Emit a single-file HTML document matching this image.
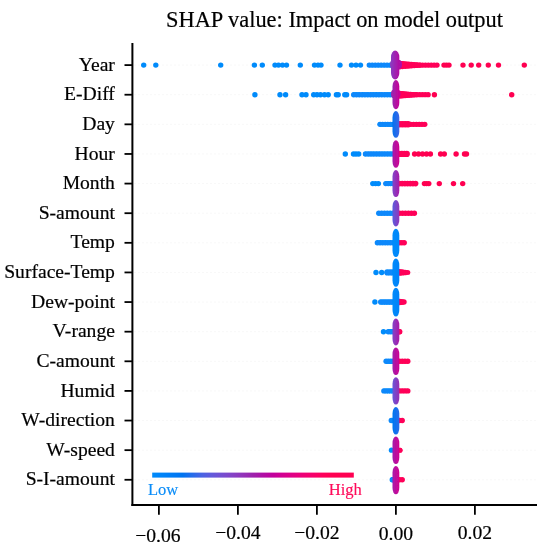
<!DOCTYPE html><html><head><meta charset="utf-8"><style>html,body{margin:0;padding:0;background:#fff;width:546px;height:550px;overflow:hidden}svg{display:block;will-change:transform}text{font-family:"Liberation Serif",serif}</style></head><body><svg width="546" height="550" viewBox="0 0 546 550"><defs><linearGradient id="cb" x1="0" x2="1" y1="0" y2="0"><stop offset="0.00" stop-color="#008bfb"/><stop offset="0.05" stop-color="#0084f9"/><stop offset="0.10" stop-color="#007cf5"/><stop offset="0.15" stop-color="#0074f0"/><stop offset="0.20" stop-color="#266cea"/><stop offset="0.25" stop-color="#4c63e3"/><stop offset="0.30" stop-color="#6459da"/><stop offset="0.35" stop-color="#764ed0"/><stop offset="0.40" stop-color="#8542c5"/><stop offset="0.45" stop-color="#9233b9"/><stop offset="0.50" stop-color="#9d22ac"/><stop offset="0.55" stop-color="#b00fa5"/><stop offset="0.60" stop-color="#c2009c"/><stop offset="0.65" stop-color="#d40090"/><stop offset="0.70" stop-color="#e10084"/><stop offset="0.75" stop-color="#ee0076"/><stop offset="0.80" stop-color="#f7006a"/><stop offset="0.85" stop-color="#ff005a"/><stop offset="0.90" stop-color="#ff0051"/><stop offset="0.95" stop-color="#ff0051"/><stop offset="1.00" stop-color="#ff0051"/></linearGradient></defs><text x="334.5" y="27" font-size="22.4" text-anchor="middle" fill="#000" stroke="#000" stroke-width="0.2">SHAP value: Impact on model output</text><line x1="134" x2="537" y1="65.10" y2="65.10" stroke="#f8f8f8" stroke-width="1" stroke-dasharray="2,2"/><line x1="134" x2="537" y1="94.72" y2="94.72" stroke="#f8f8f8" stroke-width="1" stroke-dasharray="2,2"/><line x1="134" x2="537" y1="124.34" y2="124.34" stroke="#f8f8f8" stroke-width="1" stroke-dasharray="2,2"/><line x1="134" x2="537" y1="153.96" y2="153.96" stroke="#f8f8f8" stroke-width="1" stroke-dasharray="2,2"/><line x1="134" x2="537" y1="183.58" y2="183.58" stroke="#f8f8f8" stroke-width="1" stroke-dasharray="2,2"/><line x1="134" x2="537" y1="213.20" y2="213.20" stroke="#f8f8f8" stroke-width="1" stroke-dasharray="2,2"/><line x1="134" x2="537" y1="242.82" y2="242.82" stroke="#f8f8f8" stroke-width="1" stroke-dasharray="2,2"/><line x1="134" x2="537" y1="272.44" y2="272.44" stroke="#f8f8f8" stroke-width="1" stroke-dasharray="2,2"/><line x1="134" x2="537" y1="302.06" y2="302.06" stroke="#f8f8f8" stroke-width="1" stroke-dasharray="2,2"/><line x1="134" x2="537" y1="331.68" y2="331.68" stroke="#f8f8f8" stroke-width="1" stroke-dasharray="2,2"/><line x1="134" x2="537" y1="361.30" y2="361.30" stroke="#f8f8f8" stroke-width="1" stroke-dasharray="2,2"/><line x1="134" x2="537" y1="390.92" y2="390.92" stroke="#f8f8f8" stroke-width="1" stroke-dasharray="2,2"/><line x1="134" x2="537" y1="420.54" y2="420.54" stroke="#f8f8f8" stroke-width="1" stroke-dasharray="2,2"/><line x1="134" x2="537" y1="450.16" y2="450.16" stroke="#f8f8f8" stroke-width="1" stroke-dasharray="2,2"/><line x1="134" x2="537" y1="479.78" y2="479.78" stroke="#f8f8f8" stroke-width="1" stroke-dasharray="2,2"/><text x="114.9" y="70.70" font-size="19.6" text-anchor="end" fill="#000" stroke="#000" stroke-width="0.2">Year</text><line x1="124.5" x2="132.4" y1="65.10" y2="65.10" stroke="#000" stroke-width="1.8"/><text x="114.9" y="100.32" font-size="19.6" text-anchor="end" fill="#000" stroke="#000" stroke-width="0.2">E-Diff</text><line x1="124.5" x2="132.4" y1="94.72" y2="94.72" stroke="#000" stroke-width="1.8"/><text x="114.9" y="129.94" font-size="19.6" text-anchor="end" fill="#000" stroke="#000" stroke-width="0.2">Day</text><line x1="124.5" x2="132.4" y1="124.34" y2="124.34" stroke="#000" stroke-width="1.8"/><text x="114.9" y="159.56" font-size="19.6" text-anchor="end" fill="#000" stroke="#000" stroke-width="0.2">Hour</text><line x1="124.5" x2="132.4" y1="153.96" y2="153.96" stroke="#000" stroke-width="1.8"/><text x="114.9" y="189.18" font-size="19.6" text-anchor="end" fill="#000" stroke="#000" stroke-width="0.2">Month</text><line x1="124.5" x2="132.4" y1="183.58" y2="183.58" stroke="#000" stroke-width="1.8"/><text x="114.9" y="218.80" font-size="19.6" text-anchor="end" fill="#000" stroke="#000" stroke-width="0.2">S-amount</text><line x1="124.5" x2="132.4" y1="213.20" y2="213.20" stroke="#000" stroke-width="1.8"/><text x="114.9" y="248.42" font-size="19.6" text-anchor="end" fill="#000" stroke="#000" stroke-width="0.2">Temp</text><line x1="124.5" x2="132.4" y1="242.82" y2="242.82" stroke="#000" stroke-width="1.8"/><text x="114.9" y="278.04" font-size="19.6" text-anchor="end" fill="#000" stroke="#000" stroke-width="0.2">Surface-Temp</text><line x1="124.5" x2="132.4" y1="272.44" y2="272.44" stroke="#000" stroke-width="1.8"/><text x="114.9" y="307.66" font-size="19.6" text-anchor="end" fill="#000" stroke="#000" stroke-width="0.2">Dew-point</text><line x1="124.5" x2="132.4" y1="302.06" y2="302.06" stroke="#000" stroke-width="1.8"/><text x="114.9" y="337.28" font-size="19.6" text-anchor="end" fill="#000" stroke="#000" stroke-width="0.2">V-range</text><line x1="124.5" x2="132.4" y1="331.68" y2="331.68" stroke="#000" stroke-width="1.8"/><text x="114.9" y="366.90" font-size="19.6" text-anchor="end" fill="#000" stroke="#000" stroke-width="0.2">C-amount</text><line x1="124.5" x2="132.4" y1="361.30" y2="361.30" stroke="#000" stroke-width="1.8"/><text x="114.9" y="396.52" font-size="19.6" text-anchor="end" fill="#000" stroke="#000" stroke-width="0.2">Humid</text><line x1="124.5" x2="132.4" y1="390.92" y2="390.92" stroke="#000" stroke-width="1.8"/><text x="114.9" y="426.14" font-size="19.6" text-anchor="end" fill="#000" stroke="#000" stroke-width="0.2">W-direction</text><line x1="124.5" x2="132.4" y1="420.54" y2="420.54" stroke="#000" stroke-width="1.8"/><text x="114.9" y="455.76" font-size="19.6" text-anchor="end" fill="#000" stroke="#000" stroke-width="0.2">W-speed</text><line x1="124.5" x2="132.4" y1="450.16" y2="450.16" stroke="#000" stroke-width="1.8"/><text x="114.9" y="485.38" font-size="19.6" text-anchor="end" fill="#000" stroke="#000" stroke-width="0.2">S-I-amount</text><line x1="124.5" x2="132.4" y1="479.78" y2="479.78" stroke="#000" stroke-width="1.8"/><line x1="132.4" x2="132.4" y1="43" y2="505.9" stroke="#000" stroke-width="2"/><line x1="131.4" x2="537" y1="504.9" y2="504.9" stroke="#000" stroke-width="2"/><line x1="158.90" x2="158.90" y1="504.9" y2="514.8" stroke="#000" stroke-width="1.8"/><text x="157.90" y="541.5" font-size="19.6" text-anchor="middle" fill="#000" stroke="#000" stroke-width="0.2">−0.06</text><line x1="237.90" x2="237.90" y1="504.9" y2="514.8" stroke="#000" stroke-width="1.8"/><text x="237.90" y="539" font-size="19.6" text-anchor="middle" fill="#000" stroke="#000" stroke-width="0.2">−0.04</text><line x1="316.90" x2="316.90" y1="504.9" y2="514.8" stroke="#000" stroke-width="1.8"/><text x="316.90" y="539" font-size="19.6" text-anchor="middle" fill="#000" stroke="#000" stroke-width="0.2">−0.02</text><line x1="395.90" x2="395.90" y1="504.9" y2="514.8" stroke="#000" stroke-width="1.8"/><text x="395.90" y="539.5" font-size="19.6" text-anchor="middle" fill="#000" stroke="#000" stroke-width="0.2">0.00</text><line x1="474.90" x2="474.90" y1="504.9" y2="514.8" stroke="#000" stroke-width="1.8"/><text x="474.90" y="538.6" font-size="19.6" text-anchor="middle" fill="#000" stroke="#000" stroke-width="0.2">0.02</text><defs><filter id="bl" x="-5%" y="-5%" width="110%" height="110%"><feGaussianBlur stdDeviation="0.45"/></filter></defs><g filter="url(#bl)"><line x1="369.3" x2="393" y1="65.10" y2="65.10" stroke="#0888fb" stroke-width="4.20" stroke-linecap="round"/><circle cx="369.30" cy="65.10" r="2.70" fill="#0888fb"/><circle cx="372.26" cy="65.10" r="2.70" fill="#0888fb"/><circle cx="375.23" cy="65.10" r="2.70" fill="#0888fb"/><circle cx="378.19" cy="65.10" r="2.70" fill="#0888fb"/><circle cx="381.15" cy="65.10" r="2.70" fill="#0888fb"/><circle cx="384.11" cy="65.10" r="2.70" fill="#0888fb"/><circle cx="387.07" cy="65.10" r="2.70" fill="#0888fb"/><circle cx="390.04" cy="65.10" r="2.70" fill="#0888fb"/><circle cx="393.00" cy="65.10" r="2.70" fill="#0888fb"/><circle cx="143.7" cy="65.10" r="2.7" fill="#008bfb"/><circle cx="155.8" cy="65.10" r="2.7" fill="#008bfb"/><circle cx="220.7" cy="65.10" r="2.7" fill="#008bfb"/><circle cx="254.4" cy="65.10" r="2.7" fill="#008bfb"/><circle cx="262.3" cy="65.10" r="2.7" fill="#008bfb"/><circle cx="275" cy="65.10" r="2.7" fill="#008bfb"/><circle cx="278.5" cy="65.10" r="2.7" fill="#008bfb"/><circle cx="282.5" cy="65.10" r="2.7" fill="#008bfb"/><circle cx="286.5" cy="65.10" r="2.7" fill="#008bfb"/><circle cx="300.3" cy="65.10" r="2.7" fill="#008bfb"/><circle cx="314.5" cy="65.10" r="2.7" fill="#008bfb"/><circle cx="318" cy="65.10" r="2.7" fill="#008bfb"/><circle cx="321" cy="65.10" r="2.7" fill="#008bfb"/><circle cx="340" cy="65.10" r="2.7" fill="#008bfb"/><circle cx="351.5" cy="65.10" r="2.7" fill="#008bfb"/><circle cx="356" cy="65.10" r="2.7" fill="#008bfb"/><circle cx="360.5" cy="65.10" r="2.7" fill="#008bfb"/><line x1="399.5" x2="437" y1="65.10" y2="65.10" stroke="#ff0058" stroke-width="4.20" stroke-linecap="round"/><circle cx="399.50" cy="65.10" r="2.70" fill="#ff0058"/><circle cx="402.38" cy="65.10" r="2.70" fill="#ff0058"/><circle cx="405.27" cy="65.10" r="2.70" fill="#ff0058"/><circle cx="408.15" cy="65.10" r="2.70" fill="#ff0058"/><circle cx="411.04" cy="65.10" r="2.70" fill="#ff0058"/><circle cx="413.92" cy="65.10" r="2.70" fill="#ff0058"/><circle cx="416.81" cy="65.10" r="2.70" fill="#ff0058"/><circle cx="419.69" cy="65.10" r="2.70" fill="#ff0058"/><circle cx="422.58" cy="65.10" r="2.70" fill="#ff0058"/><circle cx="425.46" cy="65.10" r="2.70" fill="#ff0058"/><circle cx="428.35" cy="65.10" r="2.70" fill="#ff0058"/><circle cx="431.23" cy="65.10" r="2.70" fill="#ff0058"/><circle cx="434.12" cy="65.10" r="2.70" fill="#ff0058"/><circle cx="437.00" cy="65.10" r="2.70" fill="#ff0058"/><polygon points="399.5,61.40 420,63.00 420,67.20 399.5,68.80" fill="#ff0058"/><circle cx="399.50" cy="65.10" r="4.30" fill="#ff0058"/><circle cx="402.43" cy="65.10" r="4.07" fill="#ff0058"/><circle cx="405.36" cy="65.10" r="3.84" fill="#ff0058"/><circle cx="408.29" cy="65.10" r="3.61" fill="#ff0058"/><circle cx="411.21" cy="65.10" r="3.39" fill="#ff0058"/><circle cx="414.14" cy="65.10" r="3.16" fill="#ff0058"/><circle cx="417.07" cy="65.10" r="2.93" fill="#ff0058"/><circle cx="420.00" cy="65.10" r="2.70" fill="#ff0058"/><circle cx="444" cy="65.10" r="2.7" fill="#ff0051"/><circle cx="446.5" cy="65.10" r="2.7" fill="#ff0051"/><circle cx="449" cy="65.10" r="2.7" fill="#ff0051"/><circle cx="463" cy="65.10" r="2.7" fill="#ff0051"/><circle cx="471.2" cy="65.10" r="2.7" fill="#ff0051"/><circle cx="478.7" cy="65.10" r="2.7" fill="#ff0051"/><circle cx="488.3" cy="65.10" r="2.7" fill="#ff0051"/><circle cx="498.5" cy="65.10" r="2.7" fill="#ff0051"/><circle cx="524.3" cy="65.10" r="2.7" fill="#ff0051"/><linearGradient id="sg0" x1="0" x2="1" y1="0" y2="0"><stop offset="0" stop-color="#8a3cc0"/><stop offset="1" stop-color="#b30aa3"/></linearGradient><rect x="390" y="59.8" width="12.0" height="9.4" rx="4" ry="4" fill="url(#sg0)"/><rect x="391" y="50.6" width="8.3" height="28.8" rx="4.15" ry="6.5" fill="url(#sg0)"/><line x1="353.7" x2="393" y1="94.72" y2="94.72" stroke="#0888fb" stroke-width="4.20" stroke-linecap="round"/><circle cx="353.70" cy="94.72" r="2.70" fill="#0888fb"/><circle cx="356.51" cy="94.72" r="2.70" fill="#0888fb"/><circle cx="359.31" cy="94.72" r="2.70" fill="#0888fb"/><circle cx="362.12" cy="94.72" r="2.70" fill="#0888fb"/><circle cx="364.93" cy="94.72" r="2.70" fill="#0888fb"/><circle cx="367.74" cy="94.72" r="2.70" fill="#0888fb"/><circle cx="370.54" cy="94.72" r="2.70" fill="#0888fb"/><circle cx="373.35" cy="94.72" r="2.70" fill="#0888fb"/><circle cx="376.16" cy="94.72" r="2.70" fill="#0888fb"/><circle cx="378.96" cy="94.72" r="2.70" fill="#0888fb"/><circle cx="381.77" cy="94.72" r="2.70" fill="#0888fb"/><circle cx="384.58" cy="94.72" r="2.70" fill="#0888fb"/><circle cx="387.39" cy="94.72" r="2.70" fill="#0888fb"/><circle cx="390.19" cy="94.72" r="2.70" fill="#0888fb"/><circle cx="393.00" cy="94.72" r="2.70" fill="#0888fb"/><circle cx="254.9" cy="94.72" r="2.7" fill="#008bfb"/><circle cx="280" cy="94.72" r="2.7" fill="#008bfb"/><circle cx="285.6" cy="94.72" r="2.7" fill="#008bfb"/><circle cx="302" cy="94.72" r="2.7" fill="#008bfb"/><circle cx="306" cy="94.72" r="2.7" fill="#008bfb"/><circle cx="313.7" cy="94.72" r="2.7" fill="#008bfb"/><circle cx="317" cy="94.72" r="2.7" fill="#008bfb"/><circle cx="320.5" cy="94.72" r="2.7" fill="#008bfb"/><circle cx="324.5" cy="94.72" r="2.7" fill="#008bfb"/><circle cx="328.2" cy="94.72" r="2.7" fill="#008bfb"/><circle cx="336.4" cy="94.72" r="2.7" fill="#008bfb"/><circle cx="338.2" cy="94.72" r="2.7" fill="#008bfb"/><circle cx="344.8" cy="94.72" r="2.7" fill="#008bfb"/><circle cx="346.6" cy="94.72" r="2.7" fill="#008bfb"/><line x1="399.5" x2="428.2" y1="94.72" y2="94.72" stroke="#ff0058" stroke-width="4.00" stroke-linecap="round"/><circle cx="399.50" cy="94.72" r="2.60" fill="#ff0058"/><circle cx="402.37" cy="94.72" r="2.60" fill="#ff0058"/><circle cx="405.24" cy="94.72" r="2.60" fill="#ff0058"/><circle cx="408.11" cy="94.72" r="2.60" fill="#ff0058"/><circle cx="410.98" cy="94.72" r="2.60" fill="#ff0058"/><circle cx="413.85" cy="94.72" r="2.60" fill="#ff0058"/><circle cx="416.72" cy="94.72" r="2.60" fill="#ff0058"/><circle cx="419.59" cy="94.72" r="2.60" fill="#ff0058"/><circle cx="422.46" cy="94.72" r="2.60" fill="#ff0058"/><circle cx="425.33" cy="94.72" r="2.60" fill="#ff0058"/><circle cx="428.20" cy="94.72" r="2.60" fill="#ff0058"/><polygon points="399.5,91.32 416,92.72 416,96.72 399.5,98.12" fill="#ff0058"/><circle cx="399.50" cy="94.72" r="4.00" fill="#ff0058"/><circle cx="402.25" cy="94.72" r="3.77" fill="#ff0058"/><circle cx="405.00" cy="94.72" r="3.53" fill="#ff0058"/><circle cx="407.75" cy="94.72" r="3.30" fill="#ff0058"/><circle cx="410.50" cy="94.72" r="3.07" fill="#ff0058"/><circle cx="413.25" cy="94.72" r="2.83" fill="#ff0058"/><circle cx="416.00" cy="94.72" r="2.60" fill="#ff0058"/><circle cx="434.4" cy="94.72" r="2.7" fill="#ff0051"/><circle cx="511.7" cy="94.72" r="2.7" fill="#ff0051"/><linearGradient id="sg1" x1="0" x2="1" y1="0" y2="0"><stop offset="0" stop-color="#9a25ae"/><stop offset="1" stop-color="#ca0097"/></linearGradient><rect x="391" y="89.3" width="9.4" height="9.3" rx="4" ry="4" fill="url(#sg1)"/><rect x="392.5" y="80.1" width="6.8" height="29.1" rx="3.40" ry="6.5" fill="url(#sg1)"/><line x1="380" x2="393" y1="124.34" y2="124.34" stroke="#0888fb" stroke-width="4.20" stroke-linecap="round"/><circle cx="380.00" cy="124.34" r="2.70" fill="#0888fb"/><circle cx="382.60" cy="124.34" r="2.70" fill="#0888fb"/><circle cx="385.20" cy="124.34" r="2.70" fill="#0888fb"/><circle cx="387.80" cy="124.34" r="2.70" fill="#0888fb"/><circle cx="390.40" cy="124.34" r="2.70" fill="#0888fb"/><circle cx="393.00" cy="124.34" r="2.70" fill="#0888fb"/><line x1="399.5" x2="408" y1="124.34" y2="124.34" stroke="#ff0058" stroke-width="5.30" stroke-linecap="round"/><circle cx="399.50" cy="124.34" r="3.25" fill="#ff0058"/><circle cx="402.33" cy="124.34" r="3.25" fill="#ff0058"/><circle cx="405.17" cy="124.34" r="3.25" fill="#ff0058"/><circle cx="408.00" cy="124.34" r="3.25" fill="#ff0058"/><line x1="399.5" x2="424.8" y1="124.34" y2="124.34" stroke="#ff0058" stroke-width="4.10" stroke-linecap="round"/><circle cx="399.50" cy="124.34" r="2.65" fill="#ff0058"/><circle cx="402.31" cy="124.34" r="2.65" fill="#ff0058"/><circle cx="405.12" cy="124.34" r="2.65" fill="#ff0058"/><circle cx="407.93" cy="124.34" r="2.65" fill="#ff0058"/><circle cx="410.74" cy="124.34" r="2.65" fill="#ff0058"/><circle cx="413.56" cy="124.34" r="2.65" fill="#ff0058"/><circle cx="416.37" cy="124.34" r="2.65" fill="#ff0058"/><circle cx="419.18" cy="124.34" r="2.65" fill="#ff0058"/><circle cx="421.99" cy="124.34" r="2.65" fill="#ff0058"/><circle cx="424.80" cy="124.34" r="2.65" fill="#ff0058"/><linearGradient id="sg2" x1="0" x2="1" y1="0" y2="0"><stop offset="0" stop-color="#0071ee"/><stop offset="1" stop-color="#4066e6"/></linearGradient><rect x="392.5" y="111.0" width="6.8" height="26.8" rx="3.40" ry="6.5" fill="url(#sg2)"/><line x1="365.5" x2="393" y1="153.96" y2="153.96" stroke="#0888fb" stroke-width="4.20" stroke-linecap="round"/><circle cx="365.50" cy="153.96" r="2.70" fill="#0888fb"/><circle cx="368.25" cy="153.96" r="2.70" fill="#0888fb"/><circle cx="371.00" cy="153.96" r="2.70" fill="#0888fb"/><circle cx="373.75" cy="153.96" r="2.70" fill="#0888fb"/><circle cx="376.50" cy="153.96" r="2.70" fill="#0888fb"/><circle cx="379.25" cy="153.96" r="2.70" fill="#0888fb"/><circle cx="382.00" cy="153.96" r="2.70" fill="#0888fb"/><circle cx="384.75" cy="153.96" r="2.70" fill="#0888fb"/><circle cx="387.50" cy="153.96" r="2.70" fill="#0888fb"/><circle cx="390.25" cy="153.96" r="2.70" fill="#0888fb"/><circle cx="393.00" cy="153.96" r="2.70" fill="#0888fb"/><circle cx="345.3" cy="153.96" r="2.7" fill="#008bfb"/><circle cx="353.5" cy="153.96" r="2.7" fill="#008bfb"/><circle cx="356" cy="153.96" r="2.7" fill="#008bfb"/><circle cx="358.7" cy="153.96" r="2.7" fill="#008bfb"/><line x1="399.5" x2="406.8" y1="153.96" y2="153.96" stroke="#ff0058" stroke-width="5.00" stroke-linecap="round"/><circle cx="399.50" cy="153.96" r="3.10" fill="#ff0058"/><circle cx="401.93" cy="153.96" r="3.10" fill="#ff0058"/><circle cx="404.37" cy="153.96" r="3.10" fill="#ff0058"/><circle cx="406.80" cy="153.96" r="3.10" fill="#ff0058"/><circle cx="414.6" cy="153.96" r="2.7" fill="#ff0051"/><circle cx="418.5" cy="153.96" r="2.7" fill="#ff0051"/><circle cx="422.5" cy="153.96" r="2.7" fill="#ff0051"/><circle cx="426.5" cy="153.96" r="2.7" fill="#ff0051"/><circle cx="430.4" cy="153.96" r="2.7" fill="#ff0051"/><circle cx="440.6" cy="153.96" r="2.7" fill="#ff0051"/><circle cx="444.3" cy="153.96" r="2.7" fill="#ff0051"/><circle cx="456.1" cy="153.96" r="2.7" fill="#ff0051"/><circle cx="464.5" cy="153.96" r="2.7" fill="#ff0051"/><circle cx="466.5" cy="153.96" r="2.7" fill="#ff0051"/><linearGradient id="sg3" x1="0" x2="1" y1="0" y2="0"><stop offset="0" stop-color="#a31daa"/><stop offset="1" stop-color="#d10091"/></linearGradient><rect x="392.5" y="140.3" width="6.8" height="27.5" rx="3.40" ry="6.5" fill="url(#sg3)"/><line x1="385.8" x2="393" y1="183.58" y2="183.58" stroke="#0888fb" stroke-width="4.20" stroke-linecap="round"/><circle cx="385.80" cy="183.58" r="2.70" fill="#0888fb"/><circle cx="388.20" cy="183.58" r="2.70" fill="#0888fb"/><circle cx="390.60" cy="183.58" r="2.70" fill="#0888fb"/><circle cx="393.00" cy="183.58" r="2.70" fill="#0888fb"/><circle cx="372.8" cy="183.58" r="2.7" fill="#008bfb"/><circle cx="375.6" cy="183.58" r="2.7" fill="#008bfb"/><circle cx="378.4" cy="183.58" r="2.7" fill="#008bfb"/><line x1="399.5" x2="415.6" y1="183.58" y2="183.58" stroke="#ff0058" stroke-width="4.40" stroke-linecap="round"/><circle cx="399.50" cy="183.58" r="2.80" fill="#ff0058"/><circle cx="402.18" cy="183.58" r="2.80" fill="#ff0058"/><circle cx="404.87" cy="183.58" r="2.80" fill="#ff0058"/><circle cx="407.55" cy="183.58" r="2.80" fill="#ff0058"/><circle cx="410.23" cy="183.58" r="2.80" fill="#ff0058"/><circle cx="412.92" cy="183.58" r="2.80" fill="#ff0058"/><circle cx="415.60" cy="183.58" r="2.80" fill="#ff0058"/><circle cx="424.4" cy="183.58" r="2.7" fill="#ff0051"/><circle cx="426.6" cy="183.58" r="2.7" fill="#ff0051"/><circle cx="428.8" cy="183.58" r="2.7" fill="#ff0051"/><circle cx="439.3" cy="183.58" r="2.7" fill="#ff0051"/><circle cx="453.5" cy="183.58" r="2.7" fill="#ff0051"/><circle cx="462.7" cy="183.58" r="2.7" fill="#ff0051"/><linearGradient id="sg4" x1="0" x2="1" y1="0" y2="0"><stop offset="0" stop-color="#7f47c9"/><stop offset="1" stop-color="#a71aa9"/></linearGradient><rect x="392.5" y="170.0" width="6.8" height="27.1" rx="3.40" ry="6.5" fill="url(#sg4)"/><line x1="378.8" x2="393" y1="213.20" y2="213.20" stroke="#0888fb" stroke-width="4.20" stroke-linecap="round"/><circle cx="378.80" cy="213.20" r="2.70" fill="#0888fb"/><circle cx="381.64" cy="213.20" r="2.70" fill="#0888fb"/><circle cx="384.48" cy="213.20" r="2.70" fill="#0888fb"/><circle cx="387.32" cy="213.20" r="2.70" fill="#0888fb"/><circle cx="390.16" cy="213.20" r="2.70" fill="#0888fb"/><circle cx="393.00" cy="213.20" r="2.70" fill="#0888fb"/><line x1="399.5" x2="414.4" y1="213.20" y2="213.20" stroke="#ff0058" stroke-width="4.20" stroke-linecap="round"/><circle cx="399.50" cy="213.20" r="2.70" fill="#ff0058"/><circle cx="402.48" cy="213.20" r="2.70" fill="#ff0058"/><circle cx="405.46" cy="213.20" r="2.70" fill="#ff0058"/><circle cx="408.44" cy="213.20" r="2.70" fill="#ff0058"/><circle cx="411.42" cy="213.20" r="2.70" fill="#ff0058"/><circle cx="414.40" cy="213.20" r="2.70" fill="#ff0058"/><linearGradient id="sg5" x1="0" x2="1" y1="0" y2="0"><stop offset="0" stop-color="#5b5ddd"/><stop offset="1" stop-color="#8f36bb"/></linearGradient><rect x="392.5" y="200.0" width="6.8" height="26.4" rx="3.40" ry="6.5" fill="url(#sg5)"/><line x1="377.4" x2="393" y1="242.82" y2="242.82" stroke="#0888fb" stroke-width="4.20" stroke-linecap="round"/><circle cx="377.40" cy="242.82" r="2.70" fill="#0888fb"/><circle cx="380.00" cy="242.82" r="2.70" fill="#0888fb"/><circle cx="382.60" cy="242.82" r="2.70" fill="#0888fb"/><circle cx="385.20" cy="242.82" r="2.70" fill="#0888fb"/><circle cx="387.80" cy="242.82" r="2.70" fill="#0888fb"/><circle cx="390.40" cy="242.82" r="2.70" fill="#0888fb"/><circle cx="393.00" cy="242.82" r="2.70" fill="#0888fb"/><line x1="399.5" x2="404.2" y1="242.82" y2="242.82" stroke="#ff0058" stroke-width="4.20" stroke-linecap="round"/><circle cx="399.50" cy="242.82" r="2.70" fill="#ff0058"/><circle cx="401.85" cy="242.82" r="2.70" fill="#ff0058"/><circle cx="404.20" cy="242.82" r="2.70" fill="#ff0058"/><linearGradient id="sg6" x1="0" x2="1" y1="0" y2="0"><stop offset="0" stop-color="#008bfb"/><stop offset="1" stop-color="#0088fa"/></linearGradient><rect x="392.5" y="228.8" width="6.8" height="28.3" rx="3.40" ry="6.5" fill="url(#sg6)"/><line x1="387.3" x2="393" y1="272.44" y2="272.44" stroke="#0888fb" stroke-width="5.00" stroke-linecap="round"/><circle cx="387.30" cy="272.44" r="3.10" fill="#0888fb"/><circle cx="390.15" cy="272.44" r="3.10" fill="#0888fb"/><circle cx="393.00" cy="272.44" r="3.10" fill="#0888fb"/><circle cx="376" cy="272.44" r="2.7" fill="#008bfb"/><circle cx="381.7" cy="272.44" r="2.7" fill="#008bfb"/><polygon points="399.5,269.64 407.8,270.54 407.8,274.34 399.5,275.24" fill="#ff0058"/><circle cx="399.50" cy="272.44" r="3.40" fill="#ff0058"/><circle cx="402.27" cy="272.44" r="3.10" fill="#ff0058"/><circle cx="405.03" cy="272.44" r="2.80" fill="#ff0058"/><circle cx="407.80" cy="272.44" r="2.50" fill="#ff0058"/><linearGradient id="sg7" x1="0" x2="1" y1="0" y2="0"><stop offset="0" stop-color="#008bfb"/><stop offset="1" stop-color="#0082f8"/></linearGradient><rect x="392.5" y="258.5" width="6.8" height="28.3" rx="3.40" ry="6.5" fill="url(#sg7)"/><line x1="380.8" x2="393" y1="302.06" y2="302.06" stroke="#0888fb" stroke-width="4.40" stroke-linecap="round"/><circle cx="380.80" cy="302.06" r="2.80" fill="#0888fb"/><circle cx="383.24" cy="302.06" r="2.80" fill="#0888fb"/><circle cx="385.68" cy="302.06" r="2.80" fill="#0888fb"/><circle cx="388.12" cy="302.06" r="2.80" fill="#0888fb"/><circle cx="390.56" cy="302.06" r="2.80" fill="#0888fb"/><circle cx="393.00" cy="302.06" r="2.80" fill="#0888fb"/><circle cx="374.9" cy="302.06" r="2.7" fill="#008bfb"/><polygon points="399.5,299.36 404.0,299.96 404.0,304.16 399.5,304.76" fill="#ff0058"/><circle cx="399.50" cy="302.06" r="3.30" fill="#ff0058"/><circle cx="401.75" cy="302.06" r="3.00" fill="#ff0058"/><circle cx="404.00" cy="302.06" r="2.70" fill="#ff0058"/><linearGradient id="sg8" x1="0" x2="1" y1="0" y2="0"><stop offset="0" stop-color="#008bfb"/><stop offset="1" stop-color="#0082f8"/></linearGradient><rect x="392.5" y="287.8" width="6.8" height="28.8" rx="3.40" ry="6.5" fill="url(#sg8)"/><line x1="388.3" x2="393" y1="331.68" y2="331.68" stroke="#0888fb" stroke-width="4.20" stroke-linecap="round"/><circle cx="388.30" cy="331.68" r="2.70" fill="#0888fb"/><circle cx="390.65" cy="331.68" r="2.70" fill="#0888fb"/><circle cx="393.00" cy="331.68" r="2.70" fill="#0888fb"/><circle cx="383.5" cy="331.68" r="2.7" fill="#008bfb"/><line x1="399.3" x2="399.6" y1="331.68" y2="331.68" stroke="#ff0058" stroke-width="4.40" stroke-linecap="round"/><circle cx="399.30" cy="331.68" r="2.80" fill="#ff0058"/><circle cx="399.60" cy="331.68" r="2.80" fill="#ff0058"/><linearGradient id="sg9" x1="0" x2="1" y1="0" y2="0"><stop offset="0" stop-color="#8244c7"/><stop offset="1" stop-color="#aa17a7"/></linearGradient><rect x="392.5" y="318.5" width="6.8" height="26.9" rx="3.40" ry="6.5" fill="url(#sg9)"/><line x1="386.1" x2="393" y1="361.30" y2="361.30" stroke="#0888fb" stroke-width="4.20" stroke-linecap="round"/><circle cx="386.10" cy="361.30" r="2.70" fill="#0888fb"/><circle cx="388.40" cy="361.30" r="2.70" fill="#0888fb"/><circle cx="390.70" cy="361.30" r="2.70" fill="#0888fb"/><circle cx="393.00" cy="361.30" r="2.70" fill="#0888fb"/><line x1="399.5" x2="407.8" y1="361.30" y2="361.30" stroke="#ff0058" stroke-width="4.20" stroke-linecap="round"/><circle cx="399.50" cy="361.30" r="2.70" fill="#ff0058"/><circle cx="402.27" cy="361.30" r="2.70" fill="#ff0058"/><circle cx="405.03" cy="361.30" r="2.70" fill="#ff0058"/><circle cx="407.80" cy="361.30" r="2.70" fill="#ff0058"/><linearGradient id="sg10" x1="0" x2="1" y1="0" y2="0"><stop offset="0" stop-color="#a01fab"/><stop offset="1" stop-color="#cf0093"/></linearGradient><rect x="392.5" y="347.5" width="6.8" height="27.6" rx="3.40" ry="6.5" fill="url(#sg10)"/><line x1="383.9" x2="393" y1="390.92" y2="390.92" stroke="#0888fb" stroke-width="4.20" stroke-linecap="round"/><circle cx="383.90" cy="390.92" r="2.70" fill="#0888fb"/><circle cx="386.17" cy="390.92" r="2.70" fill="#0888fb"/><circle cx="388.45" cy="390.92" r="2.70" fill="#0888fb"/><circle cx="390.73" cy="390.92" r="2.70" fill="#0888fb"/><circle cx="393.00" cy="390.92" r="2.70" fill="#0888fb"/><line x1="399.5" x2="407.8" y1="390.92" y2="390.92" stroke="#ff0058" stroke-width="4.20" stroke-linecap="round"/><circle cx="399.50" cy="390.92" r="2.70" fill="#ff0058"/><circle cx="402.27" cy="390.92" r="2.70" fill="#ff0058"/><circle cx="405.03" cy="390.92" r="2.70" fill="#ff0058"/><circle cx="407.80" cy="390.92" r="2.70" fill="#ff0058"/><linearGradient id="sg11" x1="0" x2="1" y1="0" y2="0"><stop offset="0" stop-color="#6857d8"/><stop offset="1" stop-color="#962db3"/></linearGradient><rect x="392.5" y="377.3" width="6.8" height="27.3" rx="3.40" ry="6.5" fill="url(#sg11)"/><line x1="391.3" x2="393" y1="420.54" y2="420.54" stroke="#0888fb" stroke-width="4.20" stroke-linecap="round"/><circle cx="391.30" cy="420.54" r="2.70" fill="#0888fb"/><circle cx="393.00" cy="420.54" r="2.70" fill="#0888fb"/><line x1="399.5" x2="402.2" y1="420.54" y2="420.54" stroke="#ff0058" stroke-width="4.20" stroke-linecap="round"/><circle cx="399.50" cy="420.54" r="2.70" fill="#ff0058"/><circle cx="402.20" cy="420.54" r="2.70" fill="#ff0058"/><linearGradient id="sg12" x1="0" x2="1" y1="0" y2="0"><stop offset="0" stop-color="#0076f1"/><stop offset="1" stop-color="#266cea"/></linearGradient><rect x="392.5" y="407.0" width="6.8" height="27.6" rx="3.40" ry="6.5" fill="url(#sg12)"/><circle cx="391.5" cy="450.16" r="2.7" fill="#008bfb"/><line x1="400" x2="400" y1="450.16" y2="450.16" stroke="#ff0058" stroke-width="3.80" stroke-linecap="round"/><circle cx="400.00" cy="450.16" r="2.50" fill="#ff0058"/><circle cx="400.00" cy="450.16" r="2.50" fill="#ff0058"/><linearGradient id="sg13" x1="0" x2="1" y1="0" y2="0"><stop offset="0" stop-color="#a31daa"/><stop offset="1" stop-color="#d10091"/></linearGradient><rect x="392.5" y="436.5" width="6.8" height="27.6" rx="3.40" ry="6.5" fill="url(#sg13)"/><line x1="392.3" x2="393" y1="479.78" y2="479.78" stroke="#0888fb" stroke-width="4.20" stroke-linecap="round"/><circle cx="392.30" cy="479.78" r="2.70" fill="#0888fb"/><circle cx="393.00" cy="479.78" r="2.70" fill="#0888fb"/><line x1="399.5" x2="402.2" y1="479.78" y2="479.78" stroke="#ff0058" stroke-width="4.20" stroke-linecap="round"/><circle cx="399.50" cy="479.78" r="2.70" fill="#ff0058"/><circle cx="402.20" cy="479.78" r="2.70" fill="#ff0058"/><linearGradient id="sg14" x1="0" x2="1" y1="0" y2="0"><stop offset="0" stop-color="#a71aa9"/><stop offset="1" stop-color="#d40090"/></linearGradient><rect x="392.5" y="466.0" width="6.8" height="28.3" rx="3.40" ry="6.5" fill="url(#sg14)"/></g><rect x="152.2" y="472.6" width="201.6" height="5" fill="url(#cb)"/><text x="148" y="494.6" font-size="16.5" fill="#0a8cf8" stroke="#0a8cf8" stroke-width="0.15">Low</text><text x="361.8" y="494.6" font-size="16.5" text-anchor="end" fill="#ff0a5a" stroke="#ff0a5a" stroke-width="0.15">High</text></svg></body></html>
